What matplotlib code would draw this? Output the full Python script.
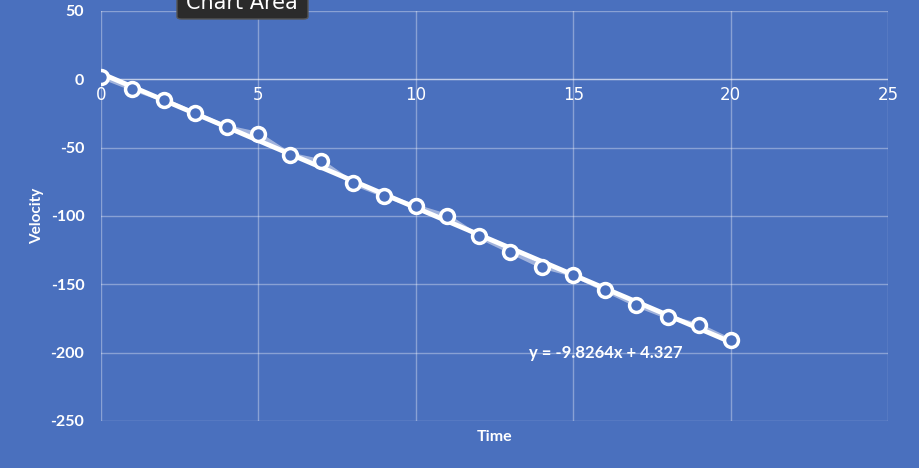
import matplotlib
matplotlib.use('Agg')
import matplotlib.pyplot as plt
import numpy as np
from matplotlib.patches import FancyBboxPatch

# data
time = np.arange(0, 21)
velocity = np.array([2, -7, -15, -25, -35, -40, -55, -60, -76, -85, -93, -100,
                     -115, -126, -137, -143, -154, -165, -174, -180, -191])
slope = -9.8264
intercept = 4.327
eq_label = 'y = -9.8264x + 4.327'
x_ticks = [0, 5, 10, 15, 20, 25]
y_ticks = [50, 0, -50, -100, -150, -200, -250]

bg = '#4a70be'
plt.rcParams['font.family'] = ['Lato', 'DejaVu Sans']

fig = plt.figure(figsize=(9.2, 4.68), dpi=100, facecolor=bg)
ax = fig.add_axes([101/920, 47/468, 787/920, 410/468], facecolor=bg)

ax.set_xlim(0, 25)
ax.set_ylim(-250, 50)
ax.set_xticks(x_ticks)
ax.set_yticks(y_ticks)
ax.grid(True, color='white', alpha=0.35, lw=1)
for s in ax.spines.values():
    s.set_visible(False)
ax.axhline(0, color='white', alpha=0.45, lw=1)

# data line (faint) + markers
ax.plot(time, velocity, '-', color='#b7c4e4', lw=3, alpha=0.8, zorder=3)
xp = np.array([0, 20])
ax.plot(xp, slope * xp + intercept, '-', color='white', lw=3.5, zorder=4)
ax.plot(time, velocity, 'o', ms=10, mfc=bg, mec='white', mew=2.5, zorder=5)

ax.tick_params(length=0, colors='white')
ax.set_xticklabels([])
for t in x_ticks:
    ax.text(t, -5, str(t), ha='center', va='top', color='white', fontsize=12,
            family='DejaVu Sans')
ax.set_yticklabels([str(v) for v in y_ticks], fontsize=11.5, fontweight='bold', color='white')
ax.tick_params(axis='y', pad=12)

ax.text(16.05, -200, eq_label, ha='center', va='center', color='white',
        fontsize=12, fontweight='bold')

fig.text(37/920, 1 - 216/468, 'Velocity', rotation=90, ha='center', va='center',
         color='white', fontsize=11, fontweight='bold')
fig.text(495/920, 1 - 437/468, 'Time', ha='center', va='center',
         color='white', fontsize=11.5, fontweight='bold')

# hover tooltip
box = FancyBboxPatch((177/920, 1 - 19/468), 131/920, 30/468,
                     boxstyle='round,pad=0,rounding_size=0.005',
                     transform=fig.transFigure, facecolor='#2b2b2b',
                     edgecolor='#555555', lw=1, zorder=10)
fig.patches.append(box)
fig.text(242/920, 1 - 3/468, 'Chart Area', ha='center', va='center',
         color='white', fontsize=15, family='DejaVu Sans', zorder=11)

fig.savefig('out.png', dpi=100, facecolor=bg)
